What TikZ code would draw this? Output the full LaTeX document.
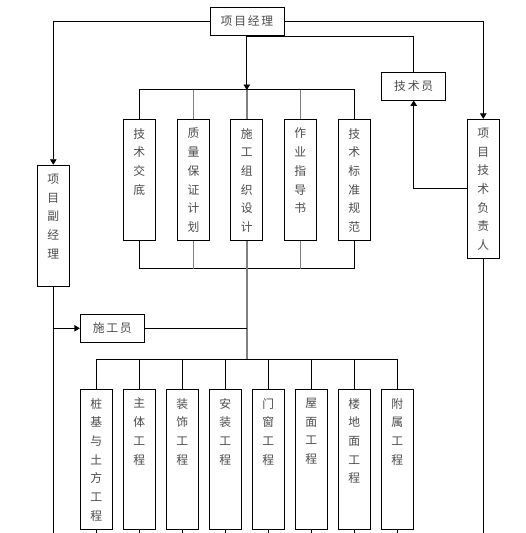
\documentclass[tikz,border=0pt]{standalone}
\usepackage{fontspec}
\newfontfamily\cjk{Noto Sans CJK SC}
\usetikzlibrary{arrows.meta}
\newcommand\vtxt[2]{\parbox[c][#1pt][t]{30pt}{\centering\cjk\fontsize{11.8pt}{18.7pt}\selectfont\vspace*{8.8pt}#2}}
\newcommand\lsp{\hspace{1.8pt}}
\begin{document}
\begin{tikzpicture}[x=1pt,y=-1pt,
  box/.style={draw, line width=0.9pt, inner sep=0pt, fill=white, text=black!70, font=\cjk\fontsize{11.8pt}{13pt}\selectfont},
  hbox/.style={box, minimum width=64pt, minimum height=28pt},
  vbox/.style={box, minimum width=32pt},
  ln/.style={line width=0.9pt, draw=black},
  gln/.style={line width=0.9pt, draw=black!50},
  ggln/.style={line width=1.8pt, draw=black!50},
  arr/.style={-{Triangle[length=5.5pt,width=6.5pt]}},
  ]
\useasboundingbox[fill=white] (0,0) rectangle (526,533);
\coordinate (bot) at (0,533);

% top level
\node[hbox, minimum width=74pt] (pm) at (247,21) {项\lsp 目\lsp 经\lsp 理};
\node[vbox, minimum height=121pt] (vpm) at (53.3,225.7) {\vtxt{121}{项\\目\\副\\经\\理}};
\node[vbox, minimum height=139pt] (tech) at (483.3,188.8) {\vtxt{139}{项\\目\\技\\术\\负\\责\\人}};
\node[hbox] (tyy) at (413.7,86) {技\lsp 术\lsp 员};

% upper five
\node[vbox, minimum height=121pt] (a1) at (139.3,179.8) {\vtxt{121}{技\\术\\交\\底}};
\node[vbox, minimum height=121pt] (a2) at (193.5,179.8) {\vtxt{121}{质\\量\\保\\证\\计\\划}};
\node[vbox, minimum height=121pt] (a3) at (246.8,179.8) {\vtxt{121}{施\\工\\组\\织\\设\\计}};
\node[vbox, minimum height=121pt] (a4) at (300.3,179.8) {\vtxt{121}{作\\业\\指\\导\\书}};
\node[vbox, minimum height=121pt] (a5) at (354.3,179.8) {\vtxt{121}{技\\术\\标\\准\\规\\范}};

% construction staff
\node[hbox] (sgy) at (112.3,328.3) {施\lsp 工\lsp 员};

% lower eight
\node[vbox, minimum height=140pt] (b1) at (96.3,459.3) {\vtxt{140}{桩\\基\\与\\土\\方\\工\\程}};
\node[vbox, minimum height=140pt] (b2) at (139.3,459.3) {\vtxt{140}{主\\体\\工\\程}};
\node[vbox, minimum height=140pt] (b3) at (182.3,459.3) {\vtxt{140}{装\\饰\\工\\程}};
\node[vbox, minimum height=140pt] (b4) at (225.3,459.3) {\vtxt{140}{安\\装\\工\\程}};
\node[vbox, minimum height=140pt] (b5) at (268.3,459.3) {\vtxt{140}{门\\窗\\工\\程}};
\node[vbox, minimum height=140pt] (b6) at (311.3,459.3) {\vtxt{140}{屋\\面\\工\\程}};
\node[vbox, minimum height=140pt] (b7) at (354.3,459.3) {\vtxt{140}{楼\\地\\面\\工\\程}};
\node[vbox, minimum height=140pt] (b8) at (397.3,459.3) {\vtxt{140}{附\\属\\工\\程}};

\coordinate (topbus) at (246.8,90);
\coordinate (lowbus) at (246.8,360);
\coordinate (sgyj) at (246.8,328.3);

% manager connectors
\draw[ln,arr] (pm.west) -| (vpm.north);
\draw[ln,arr] (pm.east) -| (tech.north);
\draw[ln,arr] (tyy.north) -- ++(0,-34.7) -| (topbus);
\draw[ln,arr] (tech.west) -| (tyy.south);

% upper bus
\draw[ln] (a1.north) -- ++(0,-29.3) -| (a5.north);
\draw[gln] (a2.north) -- ++(0,-29.3);
\draw[gln] (a4.north) -- ++(0,-29.3);
\draw[ggln] (a3.north) -- (topbus);
\draw[ln] (a1.south) -- ++(0,28) -| (a5.south);
\draw[gln] (a2.south) -- ++(0,28);
\draw[gln] (a4.south) -- ++(0,28);
\draw[ggln] (a3.south) -- (lowbus);

% construction staff
\draw[ln,arr] (vpm.south |- sgy.west) -- (sgy.west);
\draw[ln] (sgy.east) -- (sgyj);

% lower bus
\draw[ln] (b1.north) -- ++(0,-29.3) -| (b8.north);
\foreach \i in {2,...,7} { \draw[ln] (b\i.north) -- ++(0,-29.3); }
\foreach \i in {1,...,8} { \draw[ln] (b\i.south) -- (b\i.south |- bot); }

% long verticals
\draw[ln] (vpm.south) -- (vpm.south |- bot);
\draw[ln] (tech.south) -- (tech.south |- bot);
\end{tikzpicture}
\end{document}
